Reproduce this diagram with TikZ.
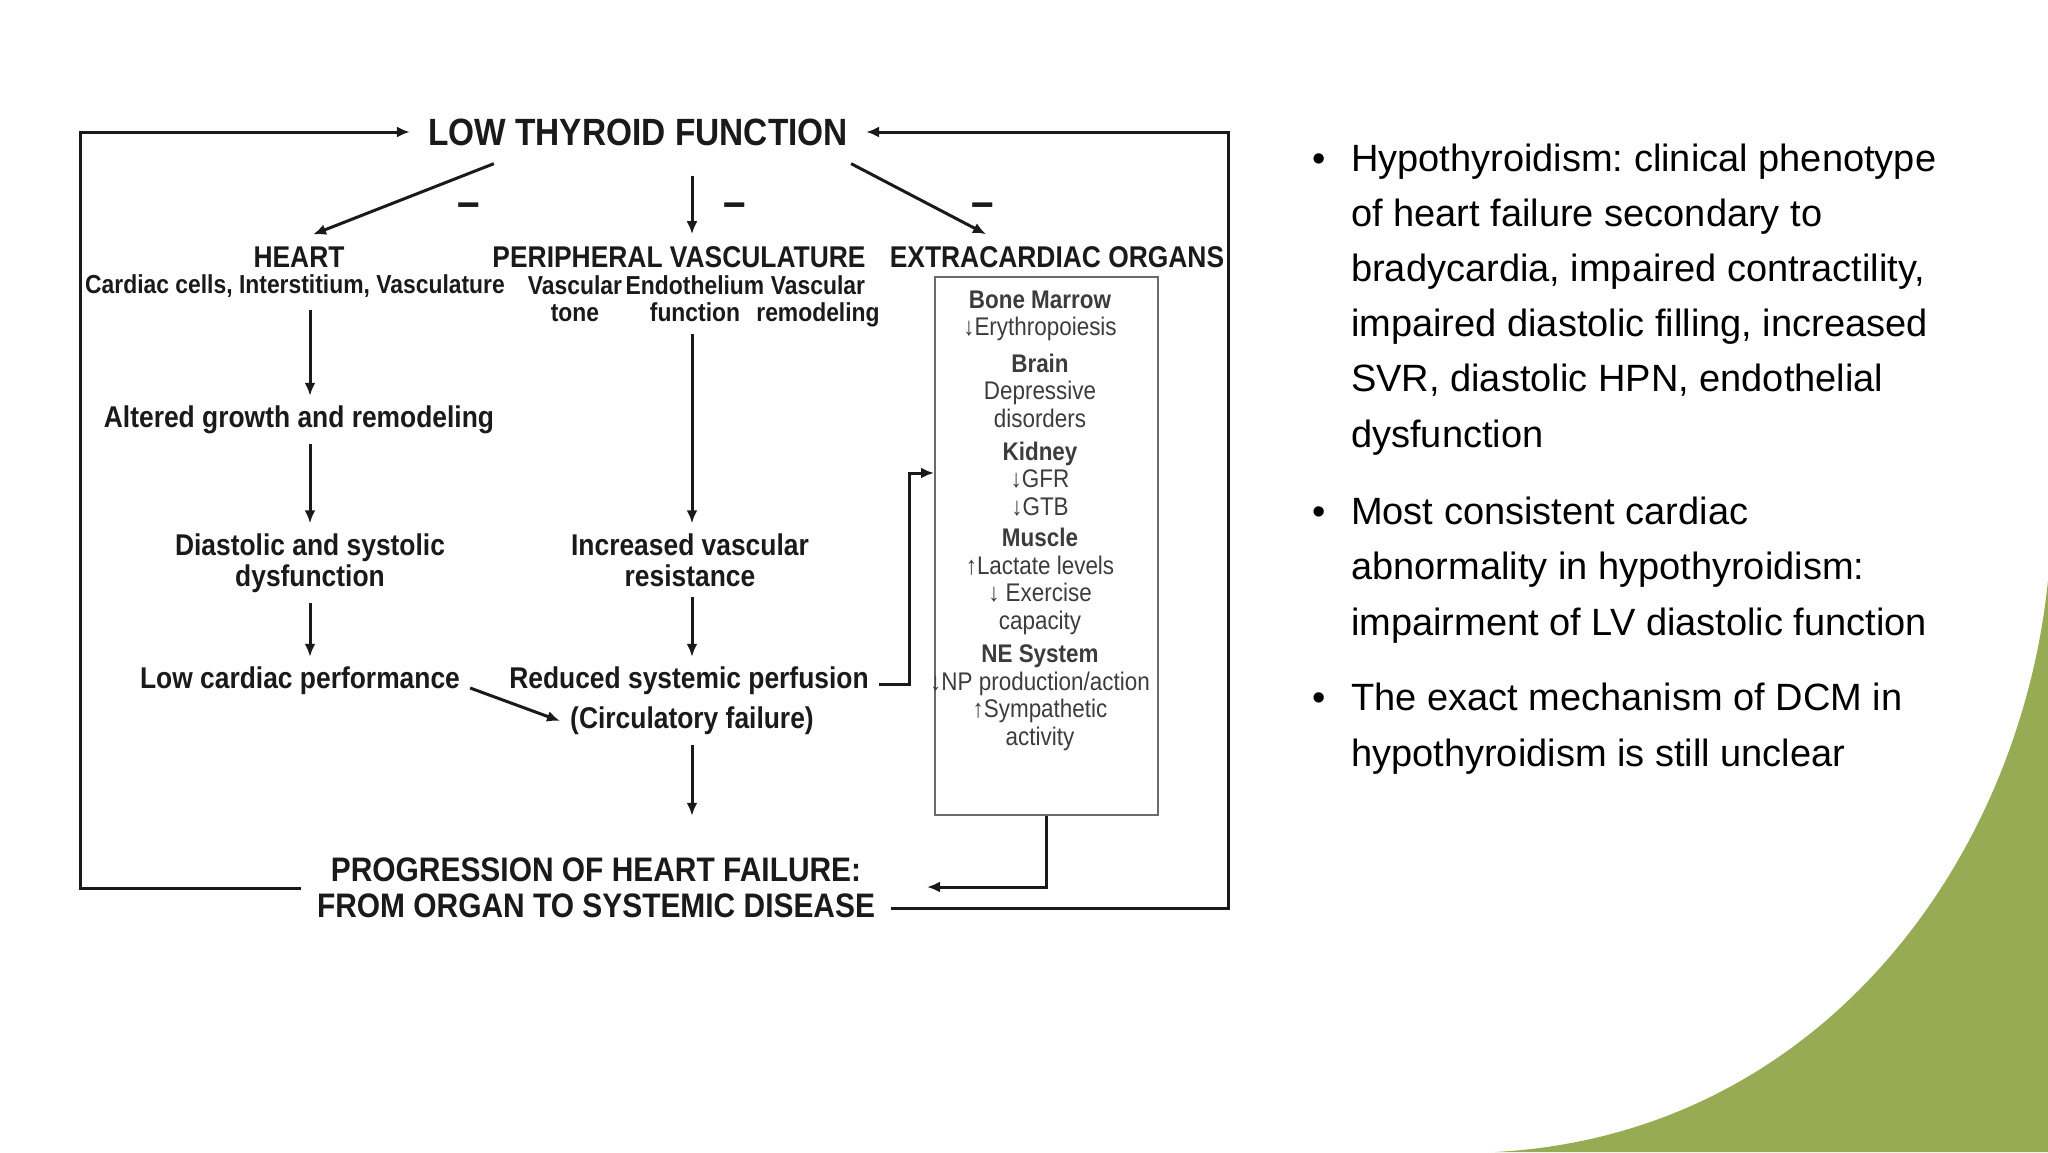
\documentclass[tikz,border=0pt]{standalone}
\usepackage{fontspec}
\setmainfont{Liberation Sans}
\newfontfamily\chartfont[FakeStretch=0.88]{Liberation Sans}
\usetikzlibrary{arrows.meta,positioning,calc}
\definecolor{leafgreen}{RGB}{150,171,84}
\definecolor{ink}{HTML}{1A1A1A}
\definecolor{boxgray}{HTML}{6A6A6A}
\frenchspacing

\begin{document}
\begin{tikzpicture}[x=1pt,y=-1pt,>={Latex[length=13pt,width=11pt]}]
  \tikzset{
    flow/.style={->,line width=3pt,draw=ink},
    head/.style={text=ink,inner sep=12pt,font=\chartfont\bfseries\fontsize{30}{31}\selectfont},
    stage/.style={text=ink,align=center,inner sep=10pt,font=\chartfont\bfseries\fontsize{30}{31}\selectfont},
    subtext/.style={text=ink,align=center,inner sep=12pt,font=\chartfont\bfseries\fontsize{26}{27}\selectfont},
    organtext/.style={text=ink!85,align=center,inner sep=0pt,font=\chartfont\fontsize{25.5}{27.5}\selectfont},
    minusmark/.style={text=ink,inner sep=0pt,font=\chartfont\bfseries\fontsize{46}{46}\selectfont},
    bulletpara/.style={anchor=base west,align=left,inner sep=0pt,text=black,font=\fontsize{38}{55.2}\selectfont}
  }
  \useasboundingbox (0,0) rectangle (2048,1152);
  \fill[leafgreen] (1495,1152) .. controls (1820,1135) and (2020,860) .. (2048,580) -- (2048,1152) -- cycle;

  % diagram
  \node[text=ink,inner sep=18pt,font=\chartfont\bfseries\fontsize{38}{38}\selectfont] (lowfn) at (638,132) {LOW THYROID FUNCTION};
  \node[head] (heart) at (299,257) {HEART};
  \node[head] (vasc) at (679,257) {PERIPHERAL VASCULATURE};
  \node[head] (extra) at (1057,257) {EXTRACARDIAC ORGANS};
  \node[minusmark] (minus1) at (469,210) {–};
  \node[minusmark] (minus2) at (735,210) {–};
  \node[minusmark] (minus3) at (983,210) {–};

  \node[subtext] (heartsub) at (295,286) {Cardiac cells, Interstitium, Vasculature};
  \node[subtext] (tone) at (575,299) {Vascular\\tone};
  \node[subtext] (endo) at (695,299) {Endothelium\\function};
  \node[subtext] (remod) at (818,301) {Vascular\\remodeling};

  \node[stage] (altered) at (299,420) {Altered growth and remodeling};
  \node[stage] (diast) at (310,563) {Diastolic and systolic\\dysfunction};
  \node[stage] (lowperf) at (300,681) {Low cardiac performance};
  \node[stage] (incr) at (690,560) {Increased vascular\\resistance};
  \node[stage] (reduced) at (689,681) {Reduced systemic perfusion};
  \node[stage] (circ) at (692,721) {(Circulatory failure)};
  \node[text=ink,align=center,inner sep=16pt,font=\chartfont\bfseries\fontsize{34}{36}\selectfont] (prog) at (596,888)
    {PROGRESSION OF HEART FAILURE:\\FROM ORGAN TO SYSTEMIC DISEASE};

  % extracardiac box
  \node[draw=boxgray,line width=2pt,minimum width=223pt,minimum height=538pt,inner sep=0pt] (organbox) at (1046.5,546) {};
  \node[organtext] (marrow) at (1040,316) {\textbf{Bone Marrow}\\↓Erythropoiesis};
  \node[organtext,below=12pt of marrow] (brain) {\textbf{Brain}\\Depressive\\disorders};
  \node[organtext,below=14pt of brain] (kidney) {\textbf{Kidney}\\↓GFR\\↓GTB};
  \node[organtext,below=12pt of kidney] (muscle) {\textbf{Muscle}\\↑Lactate levels\\↓ Exercise\\capacity};
  \node[organtext,below=10pt of muscle] (nesys) {\textbf{NE System}\\↓NP production/action\\↑Sympathetic\\activity};

  \coordinate (loopl) at (80,0);
  \coordinate (loopr) at (1228,0);
  \coordinate (progin) at (927,887);

  \draw[flow] ([xshift=84pt]lowfn.south west) -- ([xshift=14pt]heart.north);
  \draw[flow,shorten <=12pt] (lowfn.south -| circ) -- (vasc.north -| circ);
  \draw[flow] ([xshift=-15pt]lowfn.south east) -- ([xshift=-71pt]extra.north);

  \draw[flow] (heartsub.south -| diast) -- (altered.north -| diast);
  \draw[flow] (altered.south -| diast) -- (diast.north);
  \draw[flow] (diast.south) -- (lowperf.north -| diast);
  \draw[flow] ([yshift=-7pt]lowperf.east) -- (circ.west);

  \draw[flow] (endo.south -| circ) -- (incr.north -| circ);
  \draw[flow] (incr.south -| circ) -- (reduced.north -| circ);
  \draw[flow,shorten >=26pt] (circ) -- (prog.north -| circ);
  \draw[flow] ([yshift=-3pt]reduced.east) -- ++(31pt,0pt) |- ([yshift=73pt]organbox.west);
  \draw[flow] (organbox.south) |- (progin);

  \draw[flow] (prog.west) -| (loopl |- lowfn.west) -- (lowfn.west);
  \draw[flow] ([yshift=-20pt]prog.east) -| (loopr |- lowfn.east) -- (lowfn.east);

  % bullets (base = last line)
  \node[bulletpara] (point1) at (1351,447) {\llap{•\hspace{25pt}}Hypothyroidism: clinical phenotype\\of heart failure secondary to\\bradycardia, impaired contractility,\\impaired diastolic filling, increased\\SVR, diastolic HPN, endothelial\\dysfunction};
  \node[bulletpara] (point2) at (1351,635) {\llap{•\hspace{25pt}}Most consistent cardiac\\abnormality in hypothyroidism:\\impairment of LV diastolic function};
  \node[bulletpara] (point3) at (1351,766) {\llap{•\hspace{25pt}}The exact mechanism of DCM in\\hypothyroidism is still unclear};
\end{tikzpicture}
\end{document}
